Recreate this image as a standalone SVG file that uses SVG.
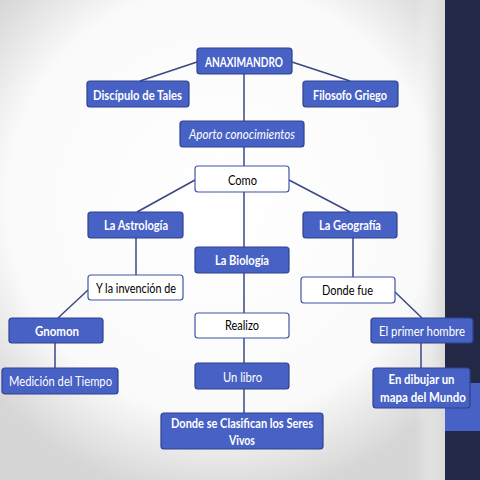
<svg xmlns="http://www.w3.org/2000/svg" width="480" height="480" viewBox="0 0 480 480">
<defs>
<radialGradient id="bg" cx="0.46" cy="0.42" r="0.62">
<stop offset="0" stop-color="#ffffff"/>
<stop offset="0.72" stop-color="#fafafa"/>
<stop offset="1" stop-color="#d6d6d6"/>
</radialGradient>
<linearGradient id="edge" x1="0" y1="0" x2="1" y2="0">
<stop offset="0" stop-color="#ffffff" stop-opacity="0"/>
<stop offset="1" stop-color="#d8d8d8"/>
</linearGradient>
</defs>
<style>
.b{fill:#4761c4;stroke:#2e428f;stroke-width:1.2}
.w{fill:#ffffff;stroke:#3f55a8;stroke-width:1.2}
text{font-family:Lato,"Open Sans",sans-serif;font-size:14px;text-anchor:middle}
.tb{font-weight:bold;fill:#ffffff}
.tn{fill:#ffffff}
.tk{fill:#000000}
.sm{font-size:12.5px}
.c line{stroke:#3a4884;stroke-width:1.5}
</style>
<rect x="0" y="0" width="480" height="480" fill="url(#bg)"/>
<rect x="415" y="0" width="30" height="480" fill="url(#edge)"/>
<rect x="445" y="0" width="35" height="480" fill="#232846"/>
<rect x="445" y="383" width="35" height="48" fill="#4761c4"/>
<g class="c" id="connectors">
<line x1="197" y1="62" x2="140" y2="81"/>
<line x1="292" y1="62" x2="350" y2="81"/>
<line x1="244" y1="74" x2="244" y2="121"/>
<line x1="244" y1="147" x2="244" y2="166"/>
<line x1="195" y1="180" x2="137" y2="212"/>
<line x1="289" y1="180" x2="350" y2="212"/>
<line x1="244" y1="192" x2="244" y2="247"/>
<line x1="136" y1="238" x2="136" y2="275"/>
<line x1="88" y1="290" x2="58" y2="318"/>
<line x1="55" y1="343" x2="55" y2="368"/>
<line x1="244" y1="273" x2="244" y2="313"/>
<line x1="244" y1="338" x2="244" y2="363"/>
<line x1="244" y1="389" x2="244" y2="413"/>
<line x1="353" y1="238" x2="353" y2="277"/>
<line x1="395" y1="292" x2="422" y2="318"/>
<line x1="421" y1="343" x2="421" y2="368"/>
</g>
<g id="n-anaximandro"><rect class="b" x="197" y="48" width="95" height="26" rx="3"/><text class="tb" x="244" y="67" textLength="78" lengthAdjust="spacingAndGlyphs">ANAXIMANDRO</text></g>
<g id="n-discipulo"><rect class="b" x="87" y="81" width="102" height="26" rx="3"/><text class="tb" x="137.5" y="100" textLength="89" lengthAdjust="spacingAndGlyphs">Discípulo de Tales</text></g>
<g id="n-filosofo"><rect class="b" x="303" y="81" width="95" height="26" rx="3"/><text class="tb" x="350" y="100" textLength="74" lengthAdjust="spacingAndGlyphs">Filosofo Griego</text></g>
<g id="n-aporto"><rect class="b" x="180" y="121" width="124" height="26" rx="3"/><text class="tn" x="242" y="139" font-style="italic" textLength="106" lengthAdjust="spacingAndGlyphs">Aporto conocimientos</text></g>
<g id="n-como"><rect class="w" x="195" y="166" width="94" height="26" rx="3"/><text class="tk" x="242.5" y="185" textLength="29" lengthAdjust="spacingAndGlyphs">Como</text></g>
<g id="n-astrologia"><rect class="b" x="88" y="212" width="95" height="26" rx="3"/><text class="tb" x="136" y="230" textLength="64" lengthAdjust="spacingAndGlyphs">La Astrología</text></g>
<g id="n-geografia"><rect class="b" x="303" y="212" width="94" height="26" rx="3"/><text class="tb" x="350" y="230" textLength="62" lengthAdjust="spacingAndGlyphs">La Geografía</text></g>
<g id="n-biologia"><rect class="b" x="195" y="247" width="94" height="26" rx="3"/><text class="tb" x="242" y="265" textLength="54" lengthAdjust="spacingAndGlyphs">La Biología</text></g>
<g id="n-invencion"><rect class="w" x="88" y="275" width="95" height="25" rx="3"/><text class="tk" x="136" y="293" textLength="80" lengthAdjust="spacingAndGlyphs">Y la invención de</text></g>
<g id="n-dondefue"><rect class="w" x="301" y="277" width="94" height="26" rx="3"/><text class="tk" x="347.5" y="295" textLength="51" lengthAdjust="spacingAndGlyphs">Donde fue</text></g>
<g id="n-gnomon"><rect class="b" x="9" y="318" width="94" height="25" rx="3"/><text class="tb" x="57" y="335.5" textLength="44" lengthAdjust="spacingAndGlyphs">Gnomon</text></g>
<g id="n-realizo"><rect class="w" x="195" y="313" width="94" height="25" rx="3"/><text class="tk" x="242" y="330" textLength="34" lengthAdjust="spacingAndGlyphs">Realizo</text></g>
<g id="n-primer"><rect class="b" x="371" y="318" width="102" height="25" rx="3"/><text class="tn sm" x="422" y="335.5" textLength="86" lengthAdjust="spacingAndGlyphs">El primer hombre</text></g>
<g id="n-medicion"><rect class="b" x="2" y="368" width="116" height="26" rx="3"/><text class="tn" x="60.5" y="385.5" textLength="103" lengthAdjust="spacingAndGlyphs">Medición del Tiempo</text></g>
<g id="n-libro"><rect class="b" x="195" y="363" width="94" height="26" rx="3"/><text class="tn" x="242.5" y="381.5" textLength="39" lengthAdjust="spacingAndGlyphs">Un libro</text></g>
<g id="n-dibujar"><rect class="b" x="373" y="368" width="97" height="40" rx="3"/><text class="tb sm" x="421.5" y="384" textLength="66" lengthAdjust="spacingAndGlyphs">En dibujar un</text><text class="tb sm" x="423" y="402" textLength="86" lengthAdjust="spacingAndGlyphs">mapa del Mundo</text></g>
<g id="n-clasifican"><rect class="b" x="161" y="413" width="162" height="36" rx="3"/><text class="tb" x="242" y="427.5" textLength="142" lengthAdjust="spacingAndGlyphs">Donde se Clasifican los Seres</text><text class="tb" x="242" y="445" textLength="26" lengthAdjust="spacingAndGlyphs">Vivos</text></g>
</svg>
